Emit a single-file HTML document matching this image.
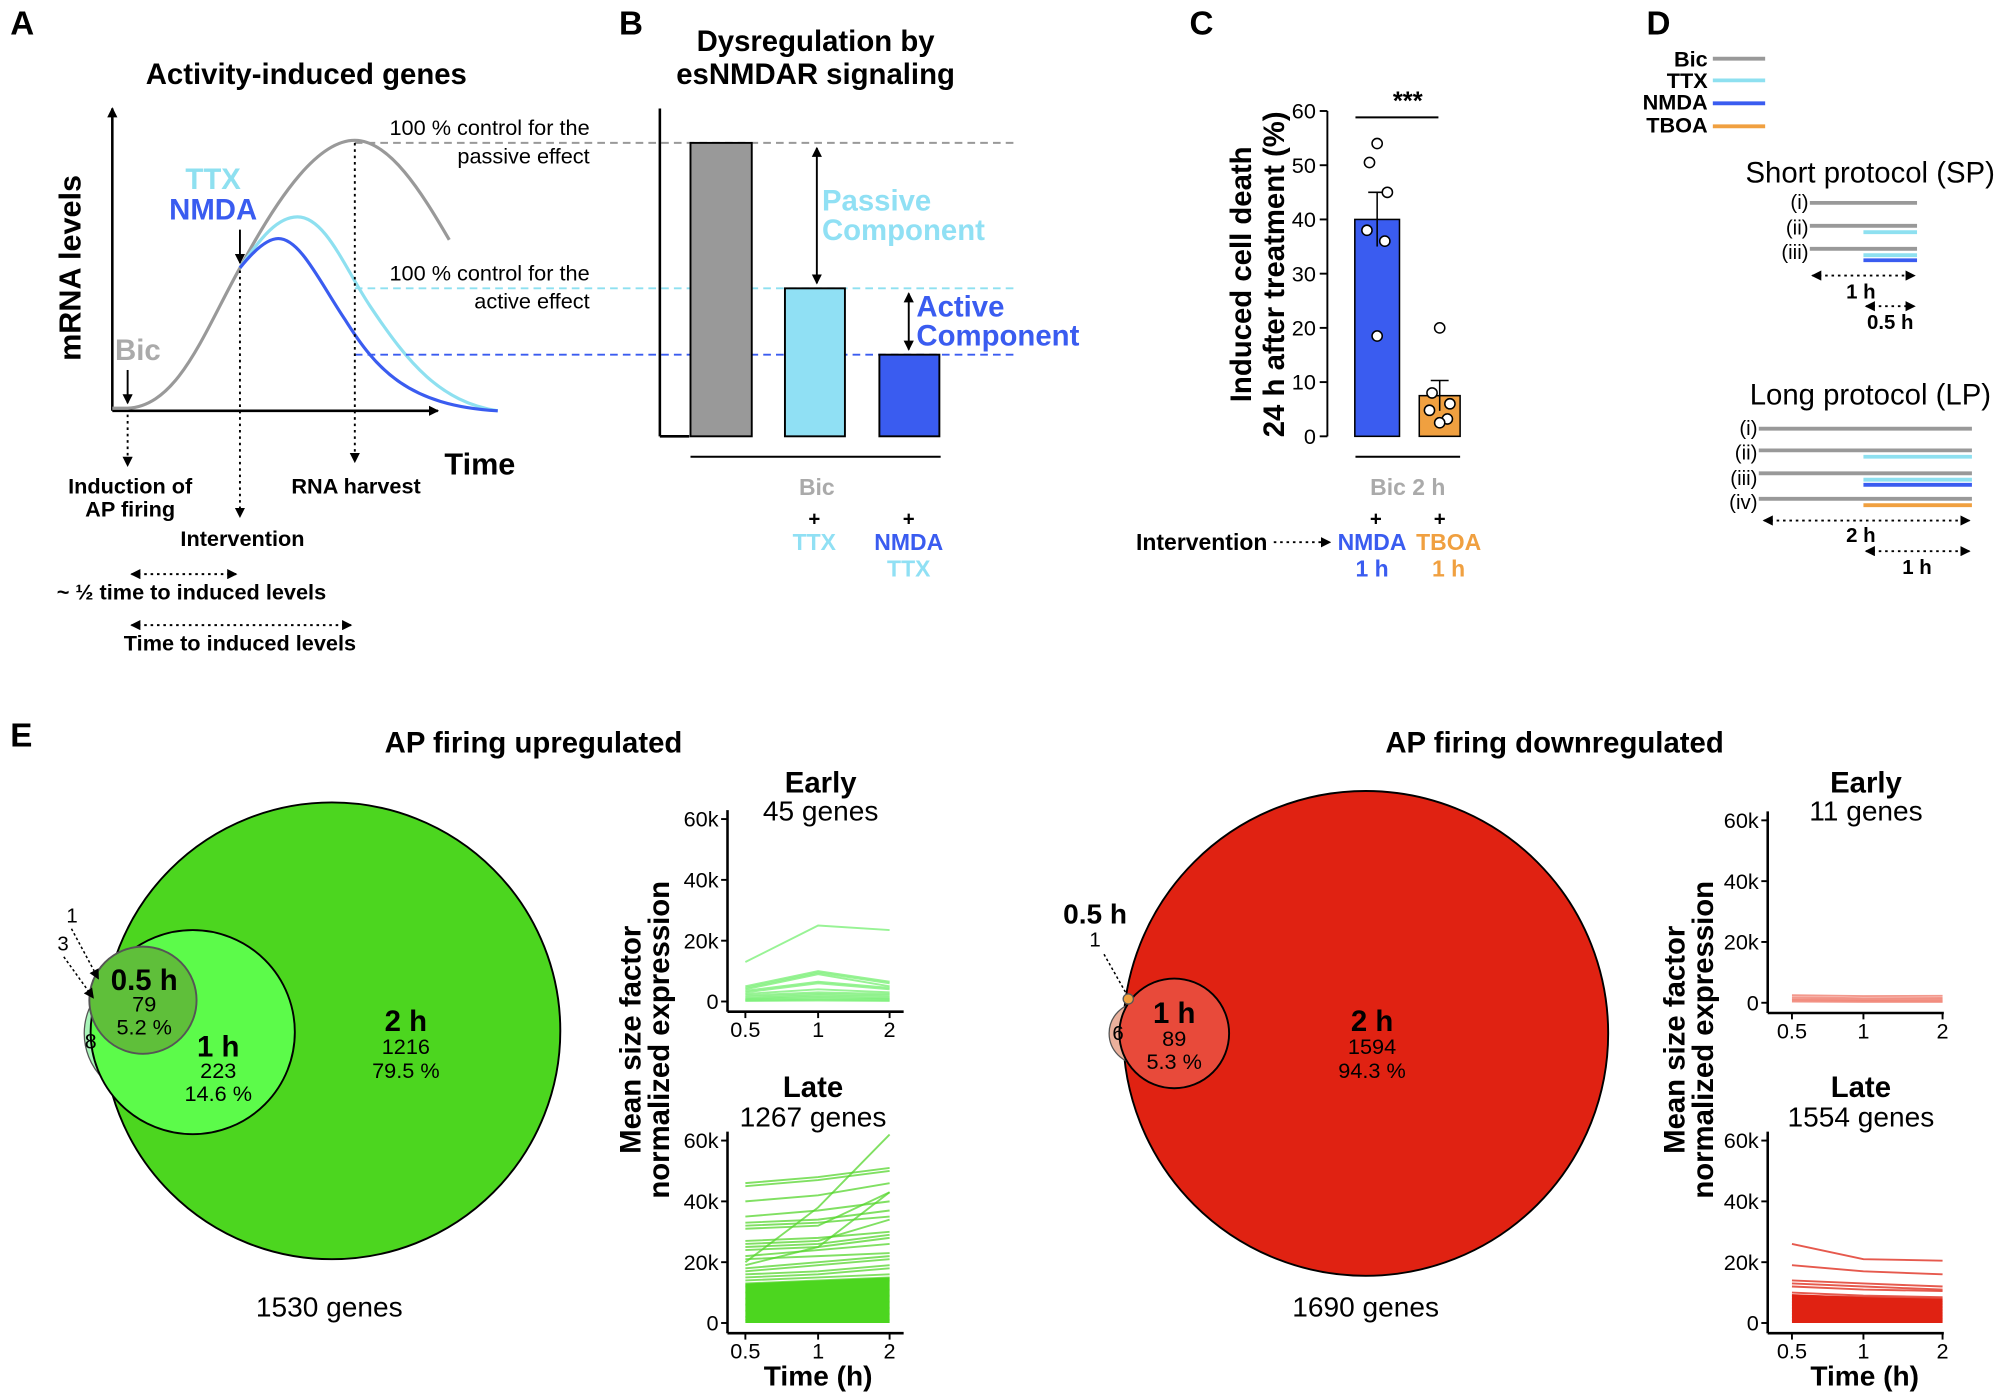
<!DOCTYPE html>
<html><head><meta charset="utf-8"><style>
html,body{margin:0;padding:0;background:#fff;}
svg{display:block;font-family:"Liberation Sans",Arial,sans-serif;}
.b{font-weight:bold;}
</style></head><body>
<svg id="fig" width="2000" height="1397" viewBox="0 0 1567 1095" preserveAspectRatio="none" xmlns="http://www.w3.org/2000/svg">
<defs>
<marker id="ar" markerWidth="8" markerHeight="8" refX="7" refY="4" orient="auto" markerUnits="userSpaceOnUse"><path d="M0,0 L8,4 L0,8 z" fill="#000"/></marker>
<marker id="ar2" markerWidth="8" markerHeight="8" refX="1" refY="4" orient="auto" markerUnits="userSpaceOnUse"><path d="M8,0 L0,4 L8,8 z" fill="#000"/></marker>
</defs>

<!-- Panel A -->
<g>
<text x="8" y="27" font-size="26" class="b">A</text>
<text x="240" y="66" font-size="23" class="b" text-anchor="middle">Activity-induced genes</text>
<line x1="88" y1="322" x2="88" y2="85" stroke="#000" stroke-width="2" marker-end="url(#ar)"/>
<line x1="88" y1="322" x2="343" y2="322" stroke="#000" stroke-width="2" marker-end="url(#ar)"/>
<text x="63" y="210" font-size="24" class="b" text-anchor="middle" transform="rotate(-90 63 210)">mRNA levels</text>
<text x="376" y="372" font-size="24" class="b" text-anchor="middle">Time</text>
<path d="M88,320 L100,320 C140,318 160,260 188,210 C220,150 250,110 278,110 C305,110 330,150 352,188" fill="none" stroke="#999" stroke-width="2.5"/>
<path d="M188,210 C205,185 218,170 233,170 C255,170 270,210 290,240 C320,285 345,315 390,322" fill="none" stroke="#8ee0f0" stroke-width="2.5"/>
<path d="M188,210 C200,195 210,187 218,187 C235,187 250,220 270,250 C295,290 320,318 390,322" fill="none" stroke="#3a5cf0" stroke-width="2.5"/>
<text x="167" y="148" font-size="23" class="b" fill="#8ee0f0" text-anchor="middle">TTX</text>
<text x="167" y="172" font-size="23" class="b" fill="#3a5cf0" text-anchor="middle">NMDA</text>
<line x1="188" y1="180" x2="188" y2="206" stroke="#000" stroke-width="1.5" marker-end="url(#ar)"/>
<text x="108" y="282" font-size="23" class="b" fill="#aaa" text-anchor="middle">Bic</text>
<line x1="100" y1="290" x2="100" y2="316" stroke="#000" stroke-width="1.5" marker-end="url(#ar)"/>
<line x1="278" y1="112" x2="797" y2="112" stroke="#999" stroke-width="1.5" stroke-dasharray="6,4"/>
<line x1="278" y1="226" x2="797" y2="226" stroke="#8ee0f0" stroke-width="1.5" stroke-dasharray="6,4"/>
<line x1="278" y1="278" x2="797" y2="278" stroke="#3a5cf0" stroke-width="1.5" stroke-dasharray="6,4"/>
<text x="462" y="106" font-size="17" text-anchor="end">100 % control for the</text>
<text x="462" y="128" font-size="17" text-anchor="end">passive effect</text>
<text x="462" y="220" font-size="17" text-anchor="end">100 % control for the</text>
<text x="462" y="242" font-size="17" text-anchor="end">active effect</text>
<line x1="100" y1="325" x2="100" y2="365" stroke="#000" stroke-width="1.5" stroke-dasharray="2,3" marker-end="url(#ar)"/>
<line x1="188" y1="212" x2="188" y2="405" stroke="#000" stroke-width="1.5" stroke-dasharray="2,3" marker-end="url(#ar)"/>
<line x1="278" y1="112" x2="278" y2="362" stroke="#000" stroke-width="1.5" stroke-dasharray="2,3" marker-end="url(#ar)"/>
<text x="102" y="387" font-size="17" class="b" text-anchor="middle">Induction of</text>
<text x="102" y="405" font-size="17" class="b" text-anchor="middle">AP firing</text>
<text x="279" y="387" font-size="17" class="b" text-anchor="middle">RNA harvest</text>
<text x="190" y="428" font-size="17" class="b" text-anchor="middle">Intervention</text>
<line x1="103" y1="450" x2="185" y2="450" stroke="#000" stroke-width="1.5" stroke-dasharray="2,3" marker-start="url(#ar2)" marker-end="url(#ar)"/>
<text x="150" y="470" font-size="17" class="b" text-anchor="middle">~ ½ time to induced levels</text>
<line x1="103" y1="490" x2="275" y2="490" stroke="#000" stroke-width="1.5" stroke-dasharray="2,3" marker-start="url(#ar2)" marker-end="url(#ar)"/>
<text x="188" y="510" font-size="17" class="b" text-anchor="middle">Time to induced levels</text>
</g>

<!-- Panel B -->
<g>
<text x="485" y="27" font-size="26" class="b">B</text>
<text x="639" y="40" font-size="23" class="b" text-anchor="middle">Dysregulation by</text>
<text x="639" y="66" font-size="23" class="b" text-anchor="middle">esNMDAR signaling</text>
<line x1="517" y1="85" x2="517" y2="342" stroke="#000" stroke-width="2"/>
<line x1="517" y1="342" x2="540" y2="342" stroke="#000" stroke-width="2"/>
<rect x="541" y="112" width="48" height="230" fill="#999" stroke="#000" stroke-width="1.5"/>
<rect x="615" y="226" width="47" height="116" fill="#90e0f4" stroke="#000" stroke-width="1.5"/>
<rect x="689" y="278" width="47" height="64" fill="#3a5cf0" stroke="#000" stroke-width="1.5"/>
<line x1="541" y1="358" x2="737" y2="358" stroke="#000" stroke-width="1.5"/>
<line x1="640" y1="116" x2="640" y2="222" stroke="#000" stroke-width="1.5" marker-start="url(#ar2)" marker-end="url(#ar)"/>
<line x1="712" y1="230" x2="712" y2="274" stroke="#000" stroke-width="1.5" marker-start="url(#ar2)" marker-end="url(#ar)"/>
<text x="644" y="165" font-size="23" class="b" fill="#90e0f4">Passive</text>
<text x="644" y="188" font-size="23" class="b" fill="#90e0f4">Component</text>
<text x="718" y="248" font-size="23" class="b" fill="#3a5cf0">Active</text>
<text x="718" y="271" font-size="23" class="b" fill="#3a5cf0">Component</text>
<text x="640" y="388" font-size="18" class="b" fill="#aaa" text-anchor="middle">Bic</text>
<text x="638" y="412" font-size="16" class="b" text-anchor="middle">+</text>
<text x="638" y="431" font-size="18" class="b" fill="#90e0f4" text-anchor="middle">TTX</text>
<text x="712" y="412" font-size="16" class="b" text-anchor="middle">+</text>
<text x="712" y="431" font-size="18" class="b" fill="#3a5cf0" text-anchor="middle">NMDA</text>
<text x="712" y="452" font-size="18" class="b" fill="#90e0f4" text-anchor="middle">TTX</text>
</g>

<!-- Panel C -->
<g id="panelC">
<text x="932" y="27" font-size="26" class="b">C</text>
<text x="980" y="215" font-size="23" class="b" text-anchor="middle" transform="rotate(-90 980 215)">Induced cell death</text>
<text x="1006" y="215" font-size="23" class="b" text-anchor="middle" transform="rotate(-90 1006 215)">24 h after treatment (%)</text>
<line x1="1062" y1="92" x2="1127" y2="92" stroke="#000" stroke-width="1.5"/>
<text x="1103" y="86" font-size="20" class="b" text-anchor="middle">***</text>
<line x1="1062" y1="358" x2="1144" y2="358" stroke="#000" stroke-width="1.5"/>
<text x="1103" y="388" font-size="18" class="b" fill="#aaa" text-anchor="middle">Bic 2 h</text>
<text x="1078" y="412" font-size="16" class="b" text-anchor="middle">+</text>
<text x="1128" y="412" font-size="16" class="b" text-anchor="middle">+</text>
<text x="993" y="431" font-size="18" class="b" text-anchor="end">Intervention</text>
<line x1="998" y1="425" x2="1042" y2="425" stroke="#000" stroke-width="1.5" stroke-dasharray="2,3" marker-end="url(#ar)"/>
<text x="1075" y="431" font-size="18" class="b" fill="#3a5cf0" text-anchor="middle">NMDA</text>
<text x="1075" y="452" font-size="18" class="b" fill="#3a5cf0" text-anchor="middle">1 h</text>
<text x="1135" y="431" font-size="18" class="b" fill="#f0a040" text-anchor="middle">TBOA</text>
<text x="1135" y="452" font-size="18" class="b" fill="#f0a040" text-anchor="middle">1 h</text>
</g>

<!-- Panel D -->
<g id="panelD">
<text x="1290" y="27" font-size="26" class="b">D</text>
<text x="1338" y="52" font-size="17" class="b" text-anchor="end">Bic</text>
<line x1="1342" y1="46" x2="1383" y2="46" stroke="#999" stroke-width="3"/>
<text x="1338" y="69" font-size="17" class="b" text-anchor="end">TTX</text>
<line x1="1342" y1="63" x2="1383" y2="63" stroke="#8ee0f0" stroke-width="3"/>
<text x="1338" y="86" font-size="17" class="b" text-anchor="end">NMDA</text>
<line x1="1342" y1="81" x2="1383" y2="81" stroke="#3a5cf0" stroke-width="3"/>
<text x="1338" y="104" font-size="17" class="b" text-anchor="end">TBOA</text>
<line x1="1342" y1="99" x2="1383" y2="99" stroke="#f0a040" stroke-width="3"/>
<text x="1563" y="143" font-size="23" text-anchor="end">Short protocol (SP)</text>
<text x="1417" y="164" font-size="16" text-anchor="end">(i)</text>
<line x1="1418" y1="159" x2="1502" y2="159" stroke="#999" stroke-width="3"/>
<text x="1417" y="184" font-size="16" text-anchor="end">(ii)</text>
<line x1="1418" y1="177" x2="1502" y2="177" stroke="#999" stroke-width="3"/>
<line x1="1460" y1="182" x2="1502" y2="182" stroke="#8ee0f0" stroke-width="3"/>
<text x="1417" y="203" font-size="16" text-anchor="end">(iii)</text>
<line x1="1418" y1="195" x2="1502" y2="195" stroke="#999" stroke-width="3"/>
<line x1="1460" y1="200" x2="1502" y2="200" stroke="#8ee0f0" stroke-width="3"/>
<line x1="1460" y1="204" x2="1502" y2="204" stroke="#3a5cf0" stroke-width="3"/>
<line x1="1420" y1="216" x2="1500" y2="216" stroke="#000" stroke-width="1.5" stroke-dasharray="2,3" marker-start="url(#ar2)" marker-end="url(#ar)"/>
<text x="1458" y="234" font-size="16" class="b" text-anchor="middle">1 h</text>
<line x1="1462" y1="240" x2="1500" y2="240" stroke="#000" stroke-width="1.5" stroke-dasharray="2,3" marker-start="url(#ar2)" marker-end="url(#ar)"/>
<text x="1481" y="258" font-size="16" class="b" text-anchor="middle">0.5 h</text>
<text x="1560" y="317" font-size="23" text-anchor="end">Long protocol (LP)</text>
<text x="1377" y="341" font-size="16" text-anchor="end">(i)</text>
<line x1="1378" y1="336" x2="1545" y2="336" stroke="#999" stroke-width="3"/>
<text x="1377" y="360" font-size="16" text-anchor="end">(ii)</text>
<line x1="1378" y1="353" x2="1545" y2="353" stroke="#999" stroke-width="3"/>
<line x1="1460" y1="358" x2="1545" y2="358" stroke="#8ee0f0" stroke-width="3"/>
<text x="1377" y="380" font-size="16" text-anchor="end">(iii)</text>
<line x1="1378" y1="371" x2="1545" y2="371" stroke="#999" stroke-width="3"/>
<line x1="1460" y1="376" x2="1545" y2="376" stroke="#8ee0f0" stroke-width="3"/>
<line x1="1460" y1="380" x2="1545" y2="380" stroke="#3a5cf0" stroke-width="3"/>
<text x="1377" y="399" font-size="16" text-anchor="end">(iv)</text>
<line x1="1378" y1="391" x2="1545" y2="391" stroke="#999" stroke-width="3"/>
<line x1="1460" y1="396" x2="1545" y2="396" stroke="#f0a040" stroke-width="3"/>
<line x1="1382" y1="408" x2="1543" y2="408" stroke="#000" stroke-width="1.5" stroke-dasharray="2,3" marker-start="url(#ar2)" marker-end="url(#ar)"/>
<text x="1458" y="425" font-size="16" class="b" text-anchor="middle">2 h</text>
<line x1="1462" y1="432" x2="1543" y2="432" stroke="#000" stroke-width="1.5" stroke-dasharray="2,3" marker-start="url(#ar2)" marker-end="url(#ar)"/>
<text x="1502" y="450" font-size="16" class="b" text-anchor="middle">1 h</text>
</g>

<!-- Panel E -->
<g>
<text x="8" y="585" font-size="26" class="b">E</text>
<text x="418" y="590" font-size="23" class="b" text-anchor="middle">AP firing upregulated</text>
<text x="1218" y="590" font-size="23" class="b" text-anchor="middle">AP firing downregulated</text>
<!-- green venn -->
<circle cx="116" cy="810" r="50" fill="#a8f4b8" stroke="#555" stroke-width="1"/>
<circle cx="260" cy="808" r="179" fill="#4cd61f" stroke="#000" stroke-width="1.5"/>
<circle cx="151" cy="809" r="80" fill="#5cfb4a" stroke="#000" stroke-width="1.5"/>
<circle cx="112" cy="784" r="42" fill="#5fbf3a" stroke="#555" stroke-width="1.5"/>
<text x="113" y="776" font-size="23" class="b" text-anchor="middle">0.5 h</text>
<text x="113" y="793" font-size="17" text-anchor="middle">79</text>
<text x="113" y="811" font-size="17" text-anchor="middle">5.2 %</text>
<text x="171" y="828" font-size="23" class="b" text-anchor="middle">1 h</text>
<text x="171" y="845" font-size="17" text-anchor="middle">223</text>
<text x="171" y="863" font-size="17" text-anchor="middle">14.6 %</text>
<text x="318" y="808" font-size="23" class="b" text-anchor="middle">2 h</text>
<text x="318" y="826" font-size="17" text-anchor="middle">1216</text>
<text x="318" y="845" font-size="17" text-anchor="middle">79.5 %</text>
<text x="71" y="822" font-size="17" text-anchor="middle">8</text>
<text x="52" y="723" font-size="16">1</text>
<text x="45" y="745" font-size="16">3</text>
<line x1="56" y1="728" x2="77" y2="767" stroke="#000" stroke-width="1.2" stroke-dasharray="2,2" marker-end="url(#ar)"/>
<line x1="50" y1="750" x2="73" y2="782" stroke="#000" stroke-width="1.2" stroke-dasharray="2,2" marker-end="url(#ar)"/>
<text x="258" y="1032" font-size="22" text-anchor="middle">1530 genes</text>
<!-- red venn -->
<circle cx="1070" cy="810" r="190" fill="#e02212" stroke="#000" stroke-width="1.5"/>
<circle cx="893" cy="810" r="24" fill="#eab09c" stroke="#555" stroke-width="1"/>
<circle cx="920" cy="810" r="43" fill="#e84a3a" stroke="#000" stroke-width="1.5"/>
<circle cx="884" cy="783" r="4" fill="#f0a040" stroke="#555" stroke-width="1"/>
<text x="858" y="724" font-size="22" class="b" text-anchor="middle">0.5 h</text>
<text x="858" y="742" font-size="16" text-anchor="middle">1</text>
<line x1="865" y1="748" x2="882" y2="778" stroke="#000" stroke-width="1.2" stroke-dasharray="2,2"/>
<text x="876" y="815" font-size="16" text-anchor="middle">6</text>
<text x="920" y="802" font-size="23" class="b" text-anchor="middle">1 h</text>
<text x="920" y="820" font-size="17" text-anchor="middle">89</text>
<text x="920" y="838" font-size="17" text-anchor="middle">5.3 %</text>
<text x="1075" y="808" font-size="23" class="b" text-anchor="middle">2 h</text>
<text x="1075" y="826" font-size="17" text-anchor="middle">1594</text>
<text x="1075" y="845" font-size="17" text-anchor="middle">94.3 %</text>
<text x="1070" y="1032" font-size="22" text-anchor="middle">1690 genes</text>
<!-- line chart titles -->
<text x="643" y="621" font-size="23" class="b" text-anchor="middle">Early</text>
<text x="643" y="643" font-size="22" text-anchor="middle">45 genes</text>
<text x="637" y="860" font-size="23" class="b" text-anchor="middle">Late</text>
<text x="637" y="883" font-size="22" text-anchor="middle">1267 genes</text>
<text x="1462" y="621" font-size="23" class="b" text-anchor="middle">Early</text>
<text x="1462" y="643" font-size="22" text-anchor="middle">11 genes</text>
<text x="1458" y="860" font-size="23" class="b" text-anchor="middle">Late</text>
<text x="1458" y="883" font-size="22" text-anchor="middle">1554 genes</text>
<text x="502" y="815" font-size="23" class="b" text-anchor="middle" transform="rotate(-90 502 815)">Mean size factor</text>
<text x="524" y="815" font-size="23" class="b" text-anchor="middle" transform="rotate(-90 524 815)">normalized expression</text>
<text x="1320" y="815" font-size="23" class="b" text-anchor="middle" transform="rotate(-90 1320 815)">Mean size factor</text>
<text x="1342" y="815" font-size="23" class="b" text-anchor="middle" transform="rotate(-90 1342 815)">normalized expression</text>
<text x="641" y="1086" font-size="22" class="b" text-anchor="middle">Time (h)</text>
<text x="1461" y="1086" font-size="22" class="b" text-anchor="middle">Time (h)</text>
</g>
<g id="charts"></g>
</svg>
<script>
const NS="http://www.w3.org/2000/svg";
// Panel C data
const cCategories=["NMDA","TBOA"];
const cMeans=[40,7.5];
const cSem=[5,2.8];
const cPointsNMDA=[54,50.5,45,38,36,18.5];
const cPointsTBOA=[20,8,6,4.8,3.2,2.5];
const cTicks=[0,10,20,30,40,50,60];
// Line charts
const timeCats=["0.5","1","2"];
const yTicks=[0,20000,40000,60000];
const yTickLabels=["0","20k","40k","60k"];
const earlyUp=[[13000,25000,23500],[5000,10000,6500],[4500,9500,6000],[4000,9000,5000],[3500,6500,4500],[3000,6000,4000],[2500,4000,3000],[2000,3000,2500],[1500,2500,2000],[1000,2000,1500],[800,1500,1000],[500,1000,800],[300,600,400],[200,300,200]];
const lateUp=[[46000,48000,51000],[45000,47000,50000],[40000,42000,46000],[35000,37000,40000],[33000,34000,37000],[32000,33000,35000],[31000,32000,43000],[27000,28000,30000],[26000,27000,34000],[25000,26000,29000],[24000,25000,28000],[22000,24000,26000],[21000,22000,23000],[20000,38000,62000],[19000,25000,43000],[18000,20000,22000],[17000,19000,21000],[16000,17000,19000],[15000,16000,18000],[14000,15000,16000],[13000,14000,15000],[12000,13000,14000],[10000,10500,11000],[8000,8500,9000],[6000,6500,7000],[4000,4500,5000],[2000,2500,3000],[1000,1000,1000]];
const earlyDown=[[2500,2200,2300],[1800,1500,1600],[1200,1000,1100],[800,700,700],[400,300,300]];
const lateDown=[[26000,21000,20500],[19000,17000,16000],[14000,13000,12000],[13000,12000,11000],[12000,11000,10500],[10000,9000,8500],[9000,8500,8000],[8000,7500,7000],[7000,6500,6200],[6000,5500,5200],[5000,4500,4300],[4000,3500,3300],[3000,2500,2400],[2000,1500,1500],[1000,800,800]];

const g=document.getElementById('charts');
function el(tag,attrs,parent){const e=document.createElementNS(NS,tag);for(const k in attrs)e.setAttribute(k,attrs[k]);(parent||g).appendChild(e);return e;}

// Panel C chart
(function(){
  const y=v=>342-v*(255/60);
  const xc=[1079,1128], bw=[35,32], cols=["#3a5cf0","#f0a040"];
  const ax=el('line',{x1:1040,y1:y(60),x2:1040,y2:y(0),stroke:'#000','stroke-width':1.5});
  
  
  cTicks.forEach(t=>{
    el('line',{x1:1034,y1:y(t),x2:1040,y2:y(t),stroke:'#000','stroke-width':1.5});
    const tx=el('text',{x:1031,y:y(t)+6,'font-size':17,'text-anchor':'end'});tx.textContent=t;
    
    
  });
  cMeans.forEach((m,i)=>{
    const r=el('rect',{x:xc[i]-bw[i]/2,y:y(m),width:bw[i],height:y(0)-y(m),fill:cols[i],stroke:'#000','stroke-width':1.2});
    
    
    el('line',{x1:xc[i],y1:y(m-cSem[i]),x2:xc[i],y2:y(m+cSem[i]),stroke:'#000','stroke-width':1.2});
    el('line',{x1:xc[i]-7,y1:y(m+cSem[i]),x2:xc[i]+7,y2:y(m+cSem[i]),stroke:'#000','stroke-width':1.2});
  });
  const offs=[0,-3,4,-4,3,0];
  [cPointsNMDA,cPointsTBOA].forEach((pts,i)=>pts.forEach((v,j)=>{
    const c=el('circle',{cx:xc[i]+offs[j]*2,cy:y(v),r:4,fill:'#fff',stroke:'#000','stroke-width':1.2});
    
    
  }));
})();

function lineChart(axX,xPos,y0,series,color,op,sw,label){
  const y=v=>y0-v*(143/60000);
  const ax=el('line',{x1:axX,y1:y0-150,x2:axX,y2:y0+8,stroke:'#000','stroke-width':2});
  
  
  const xa=el('line',{x1:axX,y1:y0+8,x2:axX+138,y2:y0+8,stroke:'#000','stroke-width':2});
  
  
  yTicks.forEach((t,i)=>{
    el('line',{x1:axX-5,y1:y(t),x2:axX,y2:y(t),stroke:'#000','stroke-width':1.5});
    const tx=el('text',{x:axX-7,y:y(t)+6,'font-size':17,'text-anchor':'end'});tx.textContent=yTickLabels[i];
    
    
  });
  timeCats.forEach((c,i)=>{
    el('line',{x1:xPos[i],y1:y0+8,x2:xPos[i],y2:y0+13,stroke:'#000','stroke-width':1.5});
    const tx=el('text',{x:xPos[i],y:y0+28,'font-size':17,'text-anchor':'middle'});tx.textContent=c;
    
    
  });
  series.forEach(s=>{
    const p=el('polyline',{points:s.map((v,i)=>xPos[i]+','+y(v)).join(' '),fill:'none',stroke:color,'stroke-opacity':op,'stroke-width':sw});
    
    
  });
}
lineChart(570,[584,641,697],785,earlyUp,'#7ef07a',0.8,1.5,'early-up');
lineChart(570,[584,641,697],1037,lateUp,'#55d62e',0.75,1.5,'late-up');
lineChart(1385,[1404,1460,1522],786,earlyDown,'#f08070',0.8,1.5,'early-down');
lineChart(1385,[1404,1460,1522],1037,lateDown,'#e03020',0.8,1.5,'late-down');
// dense low-expression bands (many genes)
(function(){
  const yU=v=>1037-v*(143/60000);
  const bandUp=[13000,14000,15000];
  const bandDown=[9500,8500,8000];
  const b1=el('polygon',{points:[584,641,697].map((x,i)=>x+','+yU(bandUp[i])).join(' ')+' 697,'+yU(0)+' 584,'+yU(0),fill:'#4cd61f'});
  
  
  const b2=el('polygon',{points:[1404,1460,1522].map((x,i)=>x+','+yU(bandDown[i])).join(' ')+' 1522,'+yU(0)+' 1404,'+yU(0),fill:'#e02212'});
  
  
})();
</script>
</body></html>
